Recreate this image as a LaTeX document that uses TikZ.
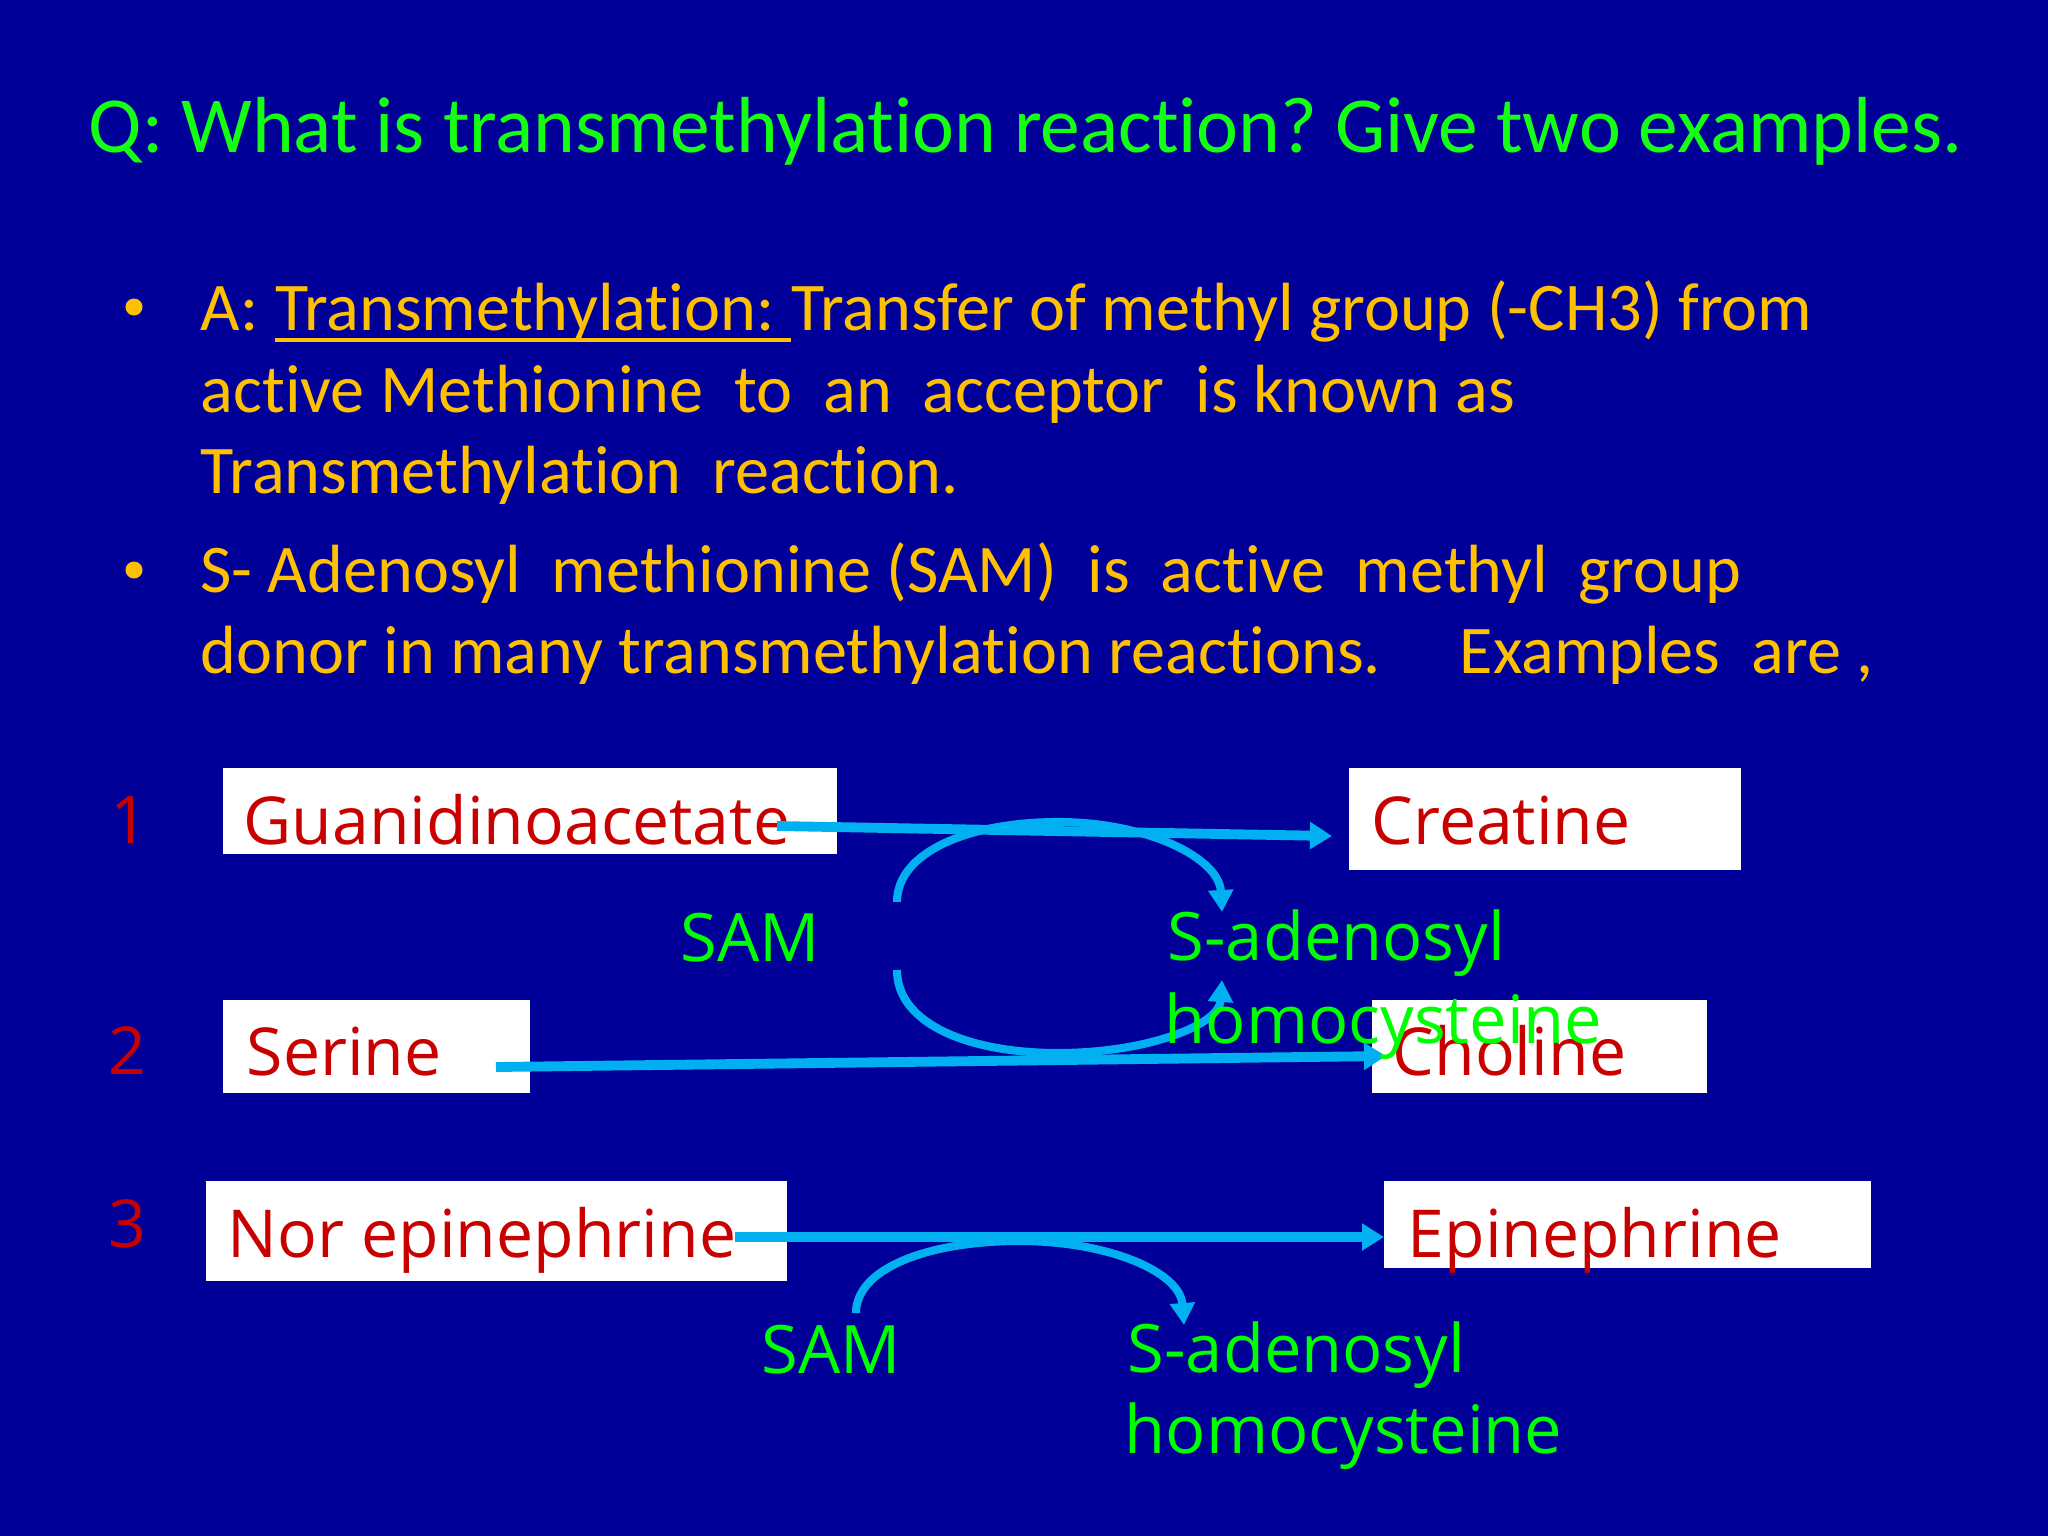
\documentclass[tikz,border=0pt]{standalone}
\usepackage{fontspec}
\setmainfont{Carlito}[Ligatures={NoCommon}]
\newfontfamily\comicf{Open Sans}
\usetikzlibrary{arrows.meta}
\definecolor{bgblue}{RGB}{0,0,153}
\definecolor{titlegreen}{RGB}{20,255,20}
\definecolor{ambertext}{RGB}{255,192,0}
\definecolor{darkredtext}{RGB}{200,0,0}
\definecolor{arrowblue}{RGB}{0,176,240}
\definecolor{labelgreen}{RGB}{0,255,0}
\frenchspacing
\begin{document}
\begin{tikzpicture}[x=0.01cm,y=-0.01cm,
  txt/.style={inner sep=0pt, anchor=base west},
  titletxt/.style={txt, text=titlegreen, font=\fontsize{22.6}{26}\selectfont},
  bodytxt/.style={txt, text=ambertext, font=\fontsize{19.4}{23}\selectfont},
  whitebox/.style={fill=white, inner sep=0pt, anchor=north west},
  boxtxt/.style={txt, text=darkredtext, font=\comicf\fontsize{18.8}{22}\selectfont},
  labtxt/.style={txt, text=labelgreen, font=\comicf\fontsize{19.0}{22}\selectfont},
  flow/.style={draw=arrowblue, line width=2.8pt, -{Triangle[length=2.2mm,width=2.6mm]}},
  arcflow/.style={draw=arrowblue, line width=2.3pt, -{Triangle[length=2.2mm,width=2.4mm]}},
  dot/.style={circle, fill=ambertext, inner sep=0pt, minimum size=1.7mm}
]
\fill[bgblue] (0,0) rectangle (2048,1536);
\useasboundingbox (0,0) rectangle (2048,1536);

% title
\node[titletxt] (title) at (88,152) {Q: What is transmethylation reaction? Give two examples.};

% bullets
\node[dot] (b1) at (134,307) {};
\node[bodytxt] (l1a) at (200,330) {A:\ \null};
\node[bodytxt] (l1u) at (l1a.base east) {Transmethylation:\ \null};
\node[bodytxt] (l1b) at (l1u.base east) {Transfer of methyl group (-CH3) from};
\draw[ambertext, line width=1pt] ([yshift=-2.8pt]l1u.base west) -- ([yshift=-2.8pt]l1u.base east);
\node[bodytxt] (l2) at (200,412) {active Methionine\ \ to\ \ an\ \ acceptor\ \ is known as};
\node[bodytxt] (l3) at (200,493) {Transmethylation\ \ reaction.};
\node[dot] (b2) at (134,570) {};
\node[bodytxt] (l4) at (200,592) {S- Adenosyl\ \ methionine (SAM)\ \ is\ \ active\ \ methyl\ \ group};
\node[bodytxt] (l5) at (200,673) {donor in many transmethylation reactions.};
\node[bodytxt] (l5b) at (1459,673) {Examples\ \ are ,};

% boxes
\node[whitebox, minimum width=61.4mm, minimum height=8.6mm] (gbox) at (222,767) {};
\node[whitebox, minimum width=39.2mm, minimum height=10.2mm] (cbox) at (1348,767) {};
\node[whitebox, minimum width=30.7mm, minimum height=9.3mm] (sbox) at (222,999) {};
\node[whitebox, minimum width=33.5mm, minimum height=9.3mm] (chbox) at (1371,999) {};
\node[whitebox, minimum width=58.1mm, minimum height=10.0mm] (nbox) at (205,1180) {};
\node[whitebox, minimum width=48.7mm, minimum height=8.7mm] (ebox) at (1383,1180) {};

\node[boxtxt] (gtxt) at (243,844) {Guanidinoacetate};
\node[boxtxt] (ctxt) at (1371,844) {Creatine};
\node[boxtxt] (stxt) at (246,1075) {Serine};
\node[boxtxt] (chtxt) at (1392,1075) {Choline};
\node[boxtxt] (ntxt) at (227,1257) {Nor epinephrine};
\node[boxtxt] (etxt) at (1407,1257) {Epinephrine};

% numbers
\node[boxtxt] (n1) at (110,843) {1};
\node[boxtxt] (n2) at (108,1074) {2};
\node[boxtxt] (n3) at (108,1247) {3};

% connector end points
\coordinate (g0) at (777,826);
\coordinate (g1) at (1332,836);
\coordinate (s0) at (496,1067);
\coordinate (s1) at (1386,1056);
\coordinate (e0) at (735,1237);
\coordinate (e1) at (1384,1237);

% reaction 1 arcs
\draw[arcflow] (897,902) .. controls (897,852) and (969,822) .. (1058,822)
  .. controls (1147,822) and (1219,858) .. (1222,912);
\draw[arcflow] (897,970) .. controls (897,1024) and (969,1053) .. (1058,1053)
  .. controls (1147,1053) and (1219,1025) .. (1222,980);

% straight arrows
\draw[flow] (g0) -- (g1);
\draw[flow] (s0) -- (s1);
\draw[flow] (e0) -- (e1);

% reaction 3 arc
\draw[arcflow] (856,1313) .. controls (856,1268) and (929,1241) .. (1019,1241)
  .. controls (1109,1241) and (1180,1272) .. (1184,1325);

% green labels
\node[labtxt] (sam1) at (680,961) {SAM};
\node[labtxt] (sah1a) at (1167,960) {S-adenosyl};
\node[labtxt] (sah1b) at (1164,1043) {homocysteine};
\node[labtxt] (sam3) at (761,1373) {SAM};
\node[labtxt] (sah3a) at (1127,1372) {S-adenosyl};
\node[labtxt] (sah3b) at (1124,1453) {homocysteine};
\end{tikzpicture}
\end{document}
